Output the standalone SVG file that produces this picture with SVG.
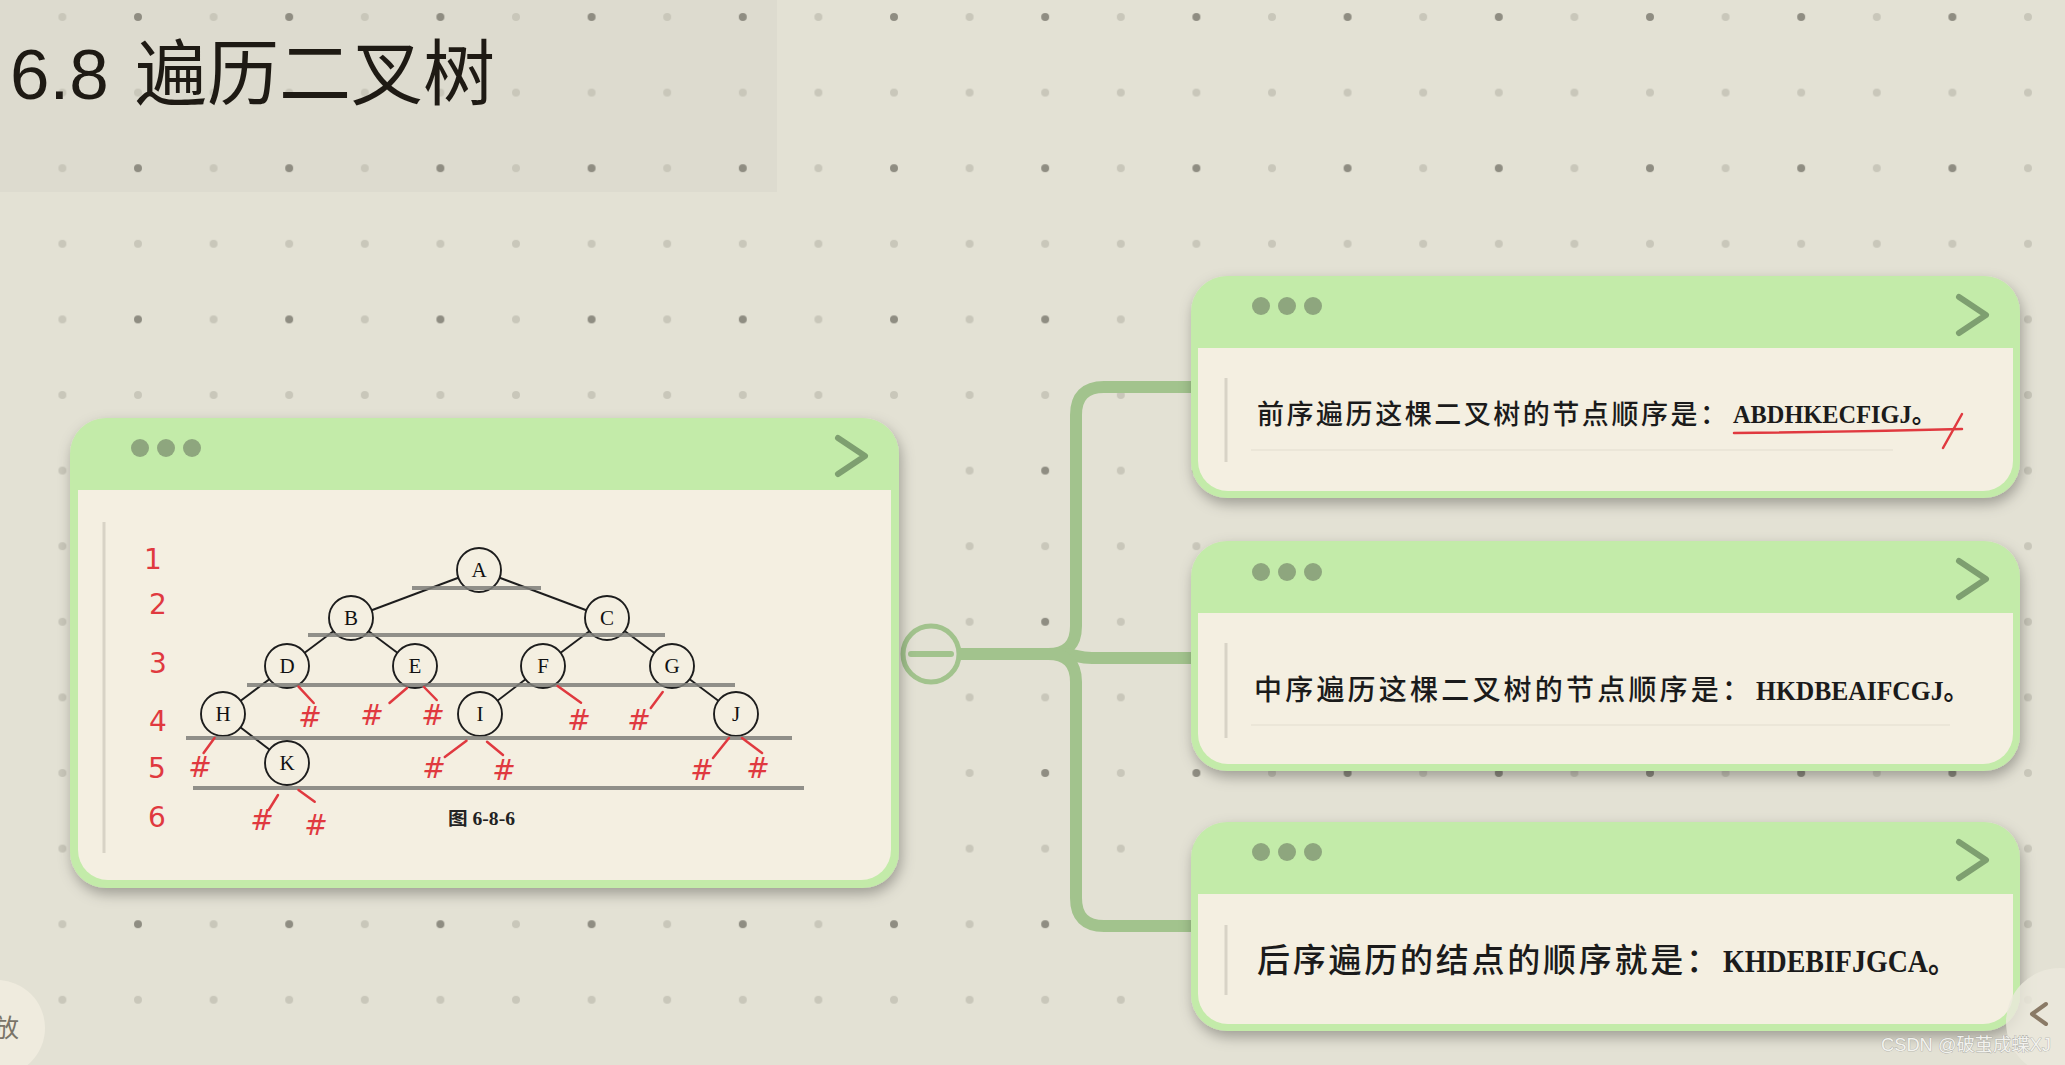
<svg xmlns="http://www.w3.org/2000/svg" width="2065" height="1065" viewBox="0 0 2065 1065">
<defs>
<style>
.frame{fill:#c3eba9}
.body{fill:#f4efe1}
.hdot{fill:#8ea67e}
.chev{fill:none;stroke:#7e9f6f;stroke-width:6;stroke-linecap:round;stroke-linejoin:round}
.vline{stroke:#d8d3c6;stroke-width:3}
.faint{stroke:#e9e3d5;stroke-width:1.5}
.cjk{font-family:"Noto Sans CJK SC","Noto Sans CJK JP",sans-serif;fill:#1b1b1b;font-weight:500}
.lat{font-family:"Liberation Serif","Noto Sans CJK SC",serif;font-weight:bold;fill:#1b1b1b}
.conn{fill:none;stroke:#a2c38d;stroke-width:12}
.tn{fill:#f4efe1;stroke:#1d1d1d;stroke-width:1.9}
.te{stroke:#1d1d1d;stroke-width:1.9}
.tl{font-family:"Liberation Serif",serif;font-size:21px;fill:#111;text-anchor:middle}
.gl{stroke:#7f7f7a;stroke-width:4;opacity:0.85}
.red{fill:#e0393f;font-family:"DejaVu Sans",sans-serif;text-anchor:middle}
.rs{stroke:#e0393f;stroke-width:2.5;stroke-linecap:round;fill:none}
</style>
<pattern id="dots" patternUnits="userSpaceOnUse" x="24.6" y="-20.8" width="151.2" height="151.2">
<circle cx="37.8" cy="37.8" r="4" fill="#c9c7ba"/>
<circle cx="113.4" cy="37.8" r="4" fill="#8f8d82"/>
<circle cx="37.8" cy="113.4" r="4" fill="#c9c7ba"/>
<circle cx="113.4" cy="113.4" r="4" fill="#c9c7ba"/>
</pattern>
<filter id="sh" x="-10%" y="-10%" width="120%" height="135%">
<feDropShadow dx="2" dy="6" stdDeviation="7" flood-color="#000" flood-opacity="0.3"/>
</filter>
</defs>

<rect width="2065" height="1065" fill="#e3e1d4"/>
<rect x="0" y="0" width="777" height="192" fill="#dddbcf"/>
<rect width="2065" height="1065" fill="url(#dots)"/>

<g id="title">
<text x="10" y="99" font-family="Liberation Sans, sans-serif" font-size="71" fill="#1e1a14">6.8</text>
<text x="135" y="99" font-family="Noto Sans CJK SC, sans-serif" font-size="72" fill="#1e1a14">遍历二叉树</text>
</g>

<g id="connectors">
<circle cx="931" cy="654" r="28" fill="none" stroke="#a2c38d" stroke-width="5"/>
<line x1="911" y1="654" x2="951" y2="654" stroke="#a2c38d" stroke-width="6" stroke-linecap="round"/>
<path class="conn" d="M959 654 H1048 Q1076 654 1076 626 V415 Q1076 387 1104 387 H1196"/>
<path class="conn" d="M959 654 H1062 C1074 654 1078 658 1092 658 H1196"/>
<path class="conn" d="M959 654 H1048 Q1076 654 1076 682 V898 Q1076 926 1104 926 H1196"/>
</g>

<g id="node-tree" filter="url(#sh)">
<rect class="frame" x="70" y="418" width="829" height="470" rx="36"/>
<path class="body" d="M78 490 H891 V850 A30 30 0 0 1 861 880 H108 A30 30 0 0 1 78 850 Z"/>
<circle class="hdot" cx="140" cy="448" r="9"/>
<circle class="hdot" cx="166" cy="448" r="9"/>
<circle class="hdot" cx="192" cy="448" r="9"/>
<polyline class="chev" points="838,438 865,456 838,474"/>
<line class="vline" x1="104" y1="522" x2="104" y2="853"/>
</g>
<g id="tree-figure">
<g>
<line class="te" x1="479" y1="570" x2="351" y2="618"/>
<line class="te" x1="479" y1="570" x2="607" y2="618"/>
<line class="te" x1="351" y1="618" x2="287" y2="666"/>
<line class="te" x1="351" y1="618" x2="415" y2="666"/>
<line class="te" x1="607" y1="618" x2="543" y2="666"/>
<line class="te" x1="607" y1="618" x2="672" y2="666"/>
<line class="te" x1="287" y1="666" x2="223" y2="714"/>
<line class="te" x1="543" y1="666" x2="480" y2="714"/>
<line class="te" x1="672" y1="666" x2="736" y2="714"/>
<line class="te" x1="223" y1="714" x2="287" y2="763"/>
</g>
<g>
<circle class="tn" cx="479" cy="570" r="22"/><text class="tl" x="479" y="577">A</text>
<circle class="tn" cx="351" cy="618" r="22"/><text class="tl" x="351" y="625">B</text>
<circle class="tn" cx="607" cy="618" r="22"/><text class="tl" x="607" y="625">C</text>
<circle class="tn" cx="287" cy="666" r="22"/><text class="tl" x="287" y="673">D</text>
<circle class="tn" cx="415" cy="666" r="22"/><text class="tl" x="415" y="673">E</text>
<circle class="tn" cx="543" cy="666" r="22"/><text class="tl" x="543" y="673">F</text>
<circle class="tn" cx="672" cy="666" r="22"/><text class="tl" x="672" y="673">G</text>
<circle class="tn" cx="223" cy="714" r="22"/><text class="tl" x="223" y="721">H</text>
<circle class="tn" cx="480" cy="714" r="22"/><text class="tl" x="480" y="721">I</text>
<circle class="tn" cx="736" cy="714" r="22"/><text class="tl" x="736" y="721">J</text>
<circle class="tn" cx="287" cy="763" r="22"/><text class="tl" x="287" y="770">K</text>
</g>
<g>
<line class="gl" x1="412" y1="588" x2="541" y2="588"/>
<line class="gl" x1="308" y1="635" x2="665" y2="635"/>
<line class="gl" x1="247" y1="685" x2="735" y2="685"/>
<line class="gl" x1="186" y1="738" x2="792" y2="738"/>
<line class="gl" x1="193" y1="788" x2="804" y2="788"/>
</g>
<g>
<line class="rs" x1="298.5" y1="686.7" x2="313.7" y2="703"/>
<line class="rs" x1="407" y1="688" x2="389.5" y2="703"/>
<line class="rs" x1="424" y1="687" x2="436.7" y2="700"/>
<line class="rs" x1="557.6" y1="686" x2="581" y2="702.7"/>
<line class="rs" x1="662.7" y1="692" x2="650.8" y2="708"/>
<line class="rs" x1="214.5" y1="738" x2="203.6" y2="753"/>
<line class="rs" x1="466.5" y1="740.7" x2="444.8" y2="757"/>
<line class="rs" x1="487" y1="741.7" x2="503" y2="755"/>
<line class="rs" x1="729" y1="738" x2="713" y2="758"/>
<line class="rs" x1="742" y1="738" x2="762" y2="753"/>
<line class="rs" x1="278" y1="795" x2="268.7" y2="810"/>
<line class="rs" x1="298.5" y1="790" x2="314.7" y2="801.7"/>
</g>
<g class="red" font-size="28">
<text x="153" y="569">1</text>
<text x="158" y="614">2</text>
<text x="158" y="673">3</text>
<text x="158" y="731">4</text>
<text x="157" y="778">5</text>
<text x="157" y="827">6</text>
</g>
<g class="red" font-size="28" font-style="italic">
<text x="310" y="727">#</text>
<text x="372" y="725">#</text>
<text x="433" y="725">#</text>
<text x="579" y="730">#</text>
<text x="639" y="730">#</text>
<text x="200" y="777">#</text>
<text x="434" y="778">#</text>
<text x="504" y="780">#</text>
<text x="702" y="780">#</text>
<text x="758" y="778">#</text>
<text x="262" y="830">#</text>
<text x="316" y="835">#</text>
</g>
<text x="448" y="825" font-family="Liberation Serif, Noto Sans CJK SC, serif" font-weight="bold" font-size="18" fill="#222" textLength="67" lengthAdjust="spacingAndGlyphs">图 6-8-6</text>
</g>

<g id="node-preorder">
<g filter="url(#sh)">
<rect class="frame" x="1191" y="276" width="829" height="222" rx="36"/>
<path class="body" d="M1198 348 H2013 V461 A30 30 0 0 1 1983 491 H1228 A30 30 0 0 1 1198 461 Z"/>
<circle class="hdot" cx="1261" cy="306" r="9"/>
<circle class="hdot" cx="1287" cy="306" r="9"/>
<circle class="hdot" cx="1313" cy="306" r="9"/>
<polyline class="chev" points="1959,297 1986,315 1959,333"/>
</g>
<line class="vline" x1="1226" y1="378" x2="1226" y2="462"/>
<line class="faint" x1="1251" y1="450" x2="1893" y2="450"/>
<text class="cjk" x="1257" y="424" font-size="27" textLength="470" lengthAdjust="spacing">前序遍历这棵二叉树的节点顺序是：</text>
<text class="lat" x="1733" y="423" font-size="26" textLength="203" lengthAdjust="spacingAndGlyphs">ABDHKECFIGJ。</text>
<path class="rs" d="M1734 433 Q1850 432 1962 429" stroke-width="3.5"/>
<line class="rs" x1="1962" y1="414" x2="1943" y2="448" stroke-width="3.5"/>
</g>

<g id="node-inorder">
<g filter="url(#sh)">
<rect class="frame" x="1191" y="541" width="829" height="230" rx="36"/>
<path class="body" d="M1198 613 H2013 V734 A30 30 0 0 1 1983 764 H1228 A30 30 0 0 1 1198 734 Z"/>
<circle class="hdot" cx="1261" cy="572" r="9"/>
<circle class="hdot" cx="1287" cy="572" r="9"/>
<circle class="hdot" cx="1313" cy="572" r="9"/>
<polyline class="chev" points="1959,561 1986,579 1959,597"/>
</g>
<line class="vline" x1="1226" y1="643" x2="1226" y2="738"/>
<line class="faint" x1="1251" y1="725" x2="1950" y2="725"/>
<text class="cjk" x="1254" y="700" font-size="28" textLength="496" lengthAdjust="spacing">中序遍历这棵二叉树的节点顺序是：</text>
<text class="lat" x="1756" y="700" font-size="27" textLength="213" lengthAdjust="spacingAndGlyphs">HKDBEAIFCGJ。</text>
</g>

<g id="node-postorder">
<g filter="url(#sh)">
<rect class="frame" x="1191" y="822" width="829" height="209" rx="36"/>
<path class="body" d="M1198 894 H2013 V994 A30 30 0 0 1 1983 1024 H1228 A30 30 0 0 1 1198 994 Z"/>
<circle class="hdot" cx="1261" cy="852" r="9"/>
<circle class="hdot" cx="1287" cy="852" r="9"/>
<circle class="hdot" cx="1313" cy="852" r="9"/>
<polyline class="chev" points="1959,842 1986,860 1959,878"/>
</g>
<line class="vline" x1="1226" y1="925" x2="1226" y2="995"/>
<text class="cjk" x="1257" y="972" font-size="33" textLength="462" lengthAdjust="spacing">后序遍历的结点的顺序就是：</text>
<text class="lat" x="1723" y="972" font-size="31" textLength="233" lengthAdjust="spacingAndGlyphs">KHDEBIFJGCA。</text>
</g>

<g id="corner-left">
<circle cx="-3" cy="1028" r="48" fill="#efebde"/>
<text x="-6" y="1037" font-family="Noto Sans CJK SC, sans-serif" font-size="25" fill="#7a7468">放</text>
</g>
<g id="corner-right">
<circle cx="2060" cy="1022" r="54" fill="#ebe8dc" opacity="0.8"/>
<polyline points="2046,1004 2032,1014 2046,1024" fill="none" stroke="#8a7a66" stroke-width="4" stroke-linecap="round" stroke-linejoin="round"/>
</g>
<text x="1881" y="1051" font-family="Liberation Sans, Noto Sans CJK SC, sans-serif" font-size="18" fill="#f2f2ee" stroke="#9a9a96" stroke-width="0.6" paint-order="stroke" textLength="170" lengthAdjust="spacingAndGlyphs">CSDN @破茧成蝶XJ</text>
</svg>
